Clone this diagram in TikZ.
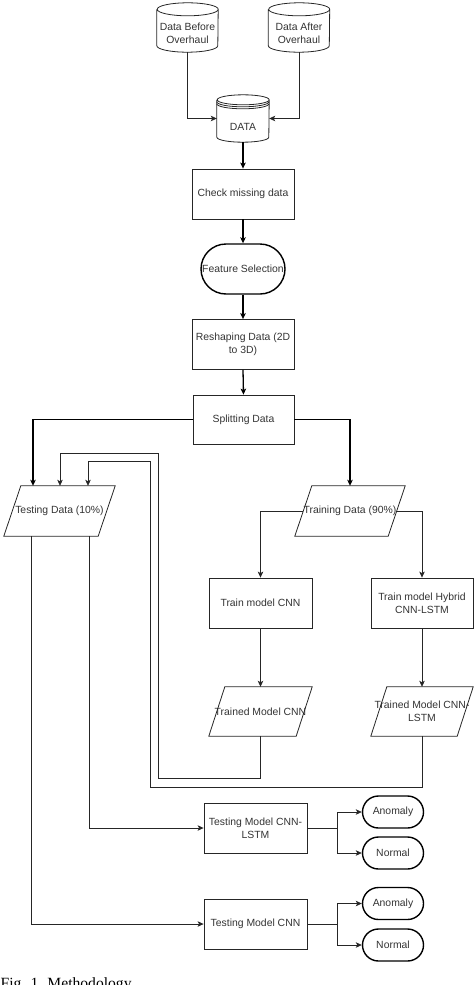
\documentclass[tikz,border=0pt]{standalone}
\usepackage{fontspec}
\setmainfont{Liberation Sans}
\newfontfamily\capfont{Liberation Serif}
\usetikzlibrary{arrows.meta,calc}
\newcommand\drawcyl[3]{%
  \draw[outl] ([yshift=-#3]#1.north west) -- ([yshift=#3]#1.south west)
    arc[start angle=180,end angle=360,x radius=#2,y radius=#3]
    -- ([yshift=-#3]#1.north east)
    arc[start angle=0,end angle=180,x radius=#2,y radius=#3]
    arc[start angle=180,end angle=360,x radius=#2,y radius=#3];}
\newcommand\drawpara[2]{%
  \draw[outl] ([xshift=#2]#1.north west) -- (#1.north east)
    -- ([xshift=-#2]#1.south east) -- (#1.south west) -- cycle;}
\begin{document}
\begin{tikzpicture}[x=1pt,y=-1pt,
  every node/.style={font=\fontsize{10.4}{13}\selectfont, text=black!80, align=center, inner sep=0pt},
  outl/.style={draw=black!85, line width=0.8pt},
  box/.style={outl, minimum width=103pt, minimum height=50pt},
  ghost/.style={minimum width=#1},
  term/.style={draw=black, line width=1.4pt, rounded corners=16pt, minimum width=61pt, minimum height=32pt},
  tip/.style={-{Stealth[length=6pt,width=5.5pt,inset=1.5pt]}},
  thinl/.style={draw=black!85, line width=0.8pt},
  thickl/.style={draw=black, line width=1.3pt},
]
\useasboundingbox (0,0) rectangle (474,985);

% cylinders
\node[ghost=61pt, minimum height=49pt] (d1) at (187.5,27.5) {};
\node (d1t) at ([yshift=-5.5pt]d1.center) {Data Before\\Overhaul};
\drawcyl{d1}{30.5pt}{6.5pt}
\node[ghost=61pt, minimum height=49pt] (d2) at (299,27.5) {};
\node (d2t) at ([yshift=-5.5pt]d2.center) {Data After\\Overhaul};
\drawcyl{d2}{30.5pt}{6.5pt}
\node[ghost=52pt, minimum height=47pt] (data) at (243,118.5) {};
\node (datat) at ([yshift=-8.5pt]data.center) {DATA};
\drawcyl{data}{26pt}{5pt}
\draw[outl] ([yshift=-7pt]data.north west) arc[start angle=180,end angle=360,x radius=26pt,y radius=5pt];
\draw[outl] ([yshift=-9pt]data.north west) arc[start angle=180,end angle=360,x radius=26pt,y radius=5pt];

% main flow
\node[box, minimum width=102pt] (check) at (243,194) {Check missing data};
\node[draw=black, line width=1.4pt, rounded corners=25pt, minimum width=84pt, minimum height=50pt] (feat) at (243,269) {Feature Selection};
\node[box, minimum width=102pt] (reshape) at (243,344.5) {Reshaping Data (2D\\to 3D)};
\node[box, minimum width=101pt, minimum height=49pt] (split) at (243.5,419.5) {Splitting Data};

% data parts
\node[ghost=111pt, minimum height=50pt] (test) at (59.5,511) {Testing Data (10\%)};
\drawpara{test}{17pt}
\node[ghost=110pt, minimum height=50pt] (train) at (350,511) {Training Data (90\%)};
\drawpara{train}{17pt}

% training
\node[box] (tcnn) at (260.5,603) {Train model CNN};
\node[box, minimum width=102pt] (hybrid) at (422,603) {Train model Hybrid\\CNN-LSTM};
\node[ghost=103pt, minimum height=49pt] (trcnn) at (260.5,711.5) {Trained Model CNN};
\drawpara{trcnn}{16pt}
\node[ghost=102pt, minimum height=49pt] (trlstm) at (422,711.5) {Trained Model CNN-\\LSTM};
\drawpara{trlstm}{16pt}

% testing
\node[box] (tmlstm) at (255.5,828) {Testing Model CNN-\\LSTM};
\node[box] (tmcnn) at (255.5,924) {Testing Model CNN};
\node[term] (an1) at (393,812) {Anomaly};
\node[term] (no1) at (393,853) {Normal};
\node[term] (an2) at (393,903.5) {Anomaly};
\node[term] (no2) at (393,945) {Normal};
\coordinate (b1) at (337,828);
\coordinate (b2) at (337,924);

% connectors
\draw[thinl, tip] (d1.south) |- (data.west);
\draw[thinl, tip] (d2.south) |- (data.east);
\draw[thickl, tip] (data.south) -- (check.north);
\draw[thickl, tip] (check.south) -- (feat.north);
\draw[thickl, tip] (feat.south) -- (reshape.north);
\draw[thickl, tip] (reshape.south) -- (split.north);
\draw[thickl, tip] (split.west) -| ([xshift=-26.5pt]test.north);
\draw[thickl, tip] (split.east) -| (train.north);
\draw[thinl, tip] ([xshift=8.5pt]train.west) -| (tcnn.north);
\draw[thinl, tip] ([xshift=-8.5pt]train.east) -| (hybrid.north);
\draw[thinl, tip] (tcnn.south) -- (trcnn.north);
\draw[thinl, tip] (hybrid.south) -- (trlstm.north);
\draw[thinl, tip] (trcnn.south) |- (158,778) -- (158,453) -| ([xshift=0.5pt]test.north);
\draw[thinl, tip] (trlstm.south) |- (150,787) -- (150,461) -| ([xshift=28.5pt]test.north);
\draw[thinl, tip] ([xshift=-28.5pt]test.south) |- (tmcnn.west);
\draw[thinl, tip] ([xshift=29.5pt]test.south) |- (tmlstm.west);
\draw[thinl] (tmlstm.east) -- (b1);
\draw[thinl, tip] (b1) |- (an1.west);
\draw[thinl, tip] (b1) |- (no1.west);
\draw[thinl] (tmcnn.east) -- (b2);
\draw[thinl, tip] (b2) |- (an2.west);
\draw[thinl, tip] (b2) |- (no2.west);

% caption
\node[font=\capfont\fontsize{15.6}{18}\selectfont, text=black, anchor=base west] (cap) at (0.5,988) {Fig. 1. Methodology};
\end{tikzpicture}
\end{document}
